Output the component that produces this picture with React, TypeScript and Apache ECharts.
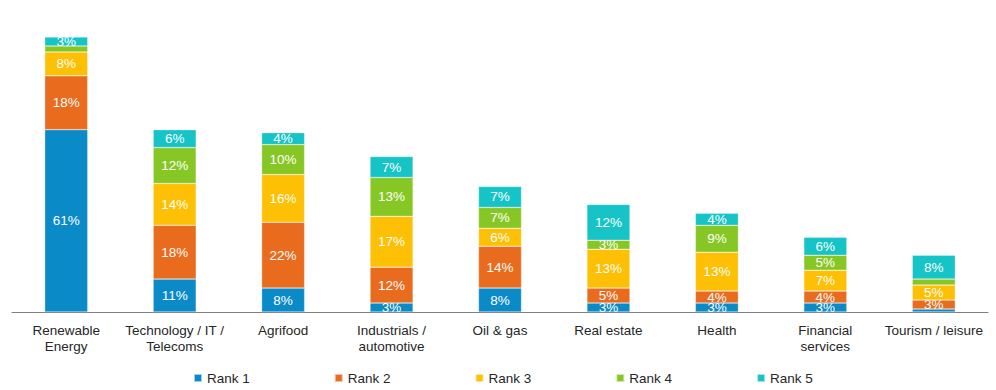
import React, { useEffect, useRef } from "react";
import * as echarts from "echarts";

const categories = [
  "Renewable\nEnergy",
  "Technology / IT /\nTelecoms",
  "Agrifood",
  "Industrials /\nautomotive",
  "Oil & gas",
  "Real estate",
  "Health",
  "Financial\nservices",
  "Tourism / leisure",
];
const seriesNames = ["Rank 1", "Rank 2", "Rank 3", "Rank 4", "Rank 5"];
const rank1 = [61, 11, 8, 3, 8, 3, 3, 3, 1];
const rank2 = [18, 18, 22, 12, 14, 5, 4, 4, 3];
const rank3 = [8, 14, 16, 17, 6, 13, 13, 7, 5];
const rank4 = [2, 12, 10, 13, 7, 3, 9, 5, 2];
const rank5 = [3, 6, 4, 7, 7, 12, 4, 6, 8];
const colors = ["#0A8BC8", "#E96B1E", "#FEC004", "#87C725", "#16C4C7"];

export default function App() {
  const ref = useRef<HTMLDivElement>(null);
  useEffect(() => {
    if (!ref.current) return;
    const chart = echarts.init(ref.current, null, { renderer: "svg" });
    const all = [rank1, rank2, rank3, rank4, rank5];
    const font = "Liberation Sans, Arial, sans-serif";
    chart.setOption({
      animation: false,
      textStyle: { fontFamily: font },
      grid: { left: 12, right: 8, top: 37, bottom: 78, containLabel: false },
      legend: {
        data: seriesNames,
        left: 193,
        top: 371,
        padding: 0,
        itemWidth: 8,
        itemHeight: 8,
        itemGap: 84,
        icon: "rect",
        textStyle: { fontSize: 13.5, color: "#262626", fontFamily: font },
      },
      xAxis: {
        type: "category",
        data: categories,
        axisLine: { lineStyle: { color: "#808080", width: 1 } },
        axisTick: { show: false },
        axisLabel: {
          interval: 0,
          color: "#262626",
          fontSize: 13.5,
          lineHeight: 16,
          margin: 10,
          fontFamily: font,
        },
      },
      yAxis: { type: "value", min: 0, max: 92, show: false, splitLine: { show: false } },
      series: all.map((d, i) => ({
        name: seriesNames[i],
        type: "bar",
        stack: "total",
        data: d,
        barWidth: 43,
        itemStyle: { color: colors[i], borderColor: "rgba(255,255,255,0.6)", borderWidth: 0.5 },
        label: {
          show: true,
          position: "inside",
          color: "#fff",
          fontSize: 13.5,
          fontFamily: font,
          formatter: (p: any) => (p.value >= 3 ? p.value + "%" : ""),
        },
      })),
    });
    return () => chart.dispose();
  }, []);
  return (
    <div
      ref={ref}
      style={{ position: "absolute", left: 0, top: 0, width: 996, height: 390 }}
    />
  );
}
